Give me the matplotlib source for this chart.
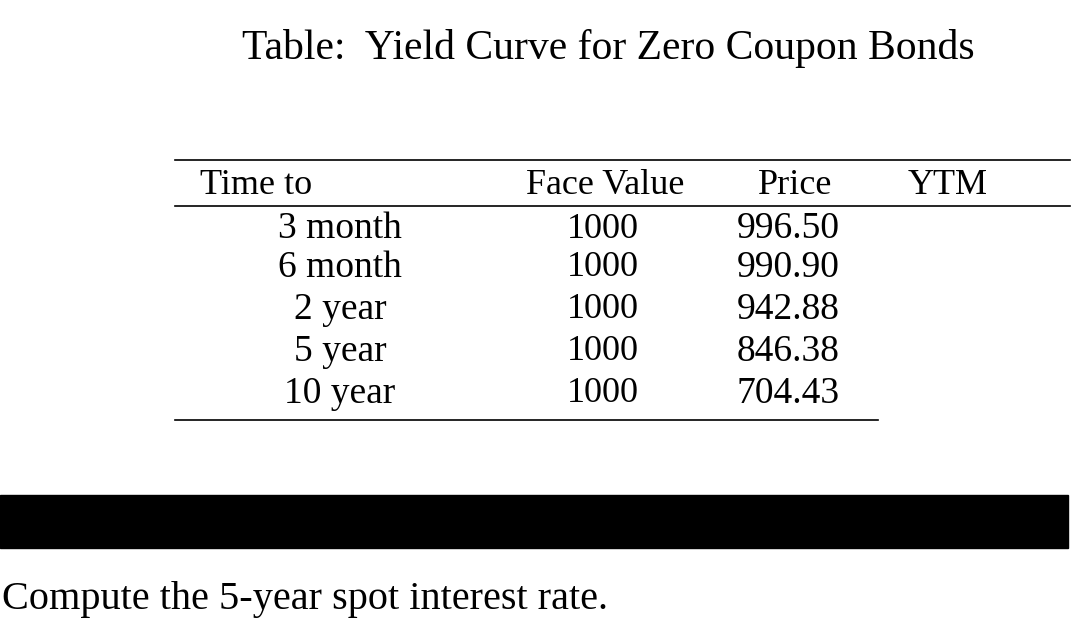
import matplotlib
matplotlib.use("Agg")
import matplotlib.pyplot as plt
from matplotlib.patches import Rectangle

title = "Table:  Yield Curve for Zero Coupon Bonds"
headers = ["Time to", "Face Value", "Price", "YTM"]
times = ["3 month", "6 month", "2 year", "5 year", "10 year"]
face_values = ["1000", "1000", "1000", "1000", "1000"]
prices = ["996.50", "990.90", "942.88", "846.38", "704.43"]
question = "Compute the 5-year spot interest rate."

W, H = 1078, 632
fig = plt.figure(figsize=(W / 100, H / 100), dpi=100)
fig.patch.set_facecolor("white")
ax = fig.add_axes([0, 0, 1, 1])
ax.set_xlim(0, W)
ax.set_ylim(H, 0)
ax.axis("off")
font = "Liberation Serif"

ax.text(608, 48, title, ha="center", va="center", fontsize=30, family=font)
ax.plot([175, 1070], [160, 160], color="black", lw=1.2)
ax.plot([175, 1070], [206, 206], color="black", lw=1.2)
ax.plot([175, 878], [420, 420], color="black", lw=1.2)

hx = [200, 605, 795, 948]
for i, h in enumerate(headers):
    ax.text(hx[i], 186, h, ha="left" if i == 0 else "center", va="center",
            fontsize=26, family=font)

row_y = [229, 268, 310, 352, 394]
for t, f, p, y in zip(times, face_values, prices, row_y):
    ax.text(340, y, t, ha="center", va="center", fontsize=27, family=font)
    ax.text(603, y, f, ha="center", va="center", fontsize=26, family=font)
    ax.text(788, y, p, ha="center", va="center", fontsize=27, family=font)

ax.add_patch(Rectangle((0, 495), 1068, 53, color="black"))
ax.text(2, 600, question, ha="left", va="center", fontsize=29, family=font)

fig.savefig("out.png", dpi=100)
